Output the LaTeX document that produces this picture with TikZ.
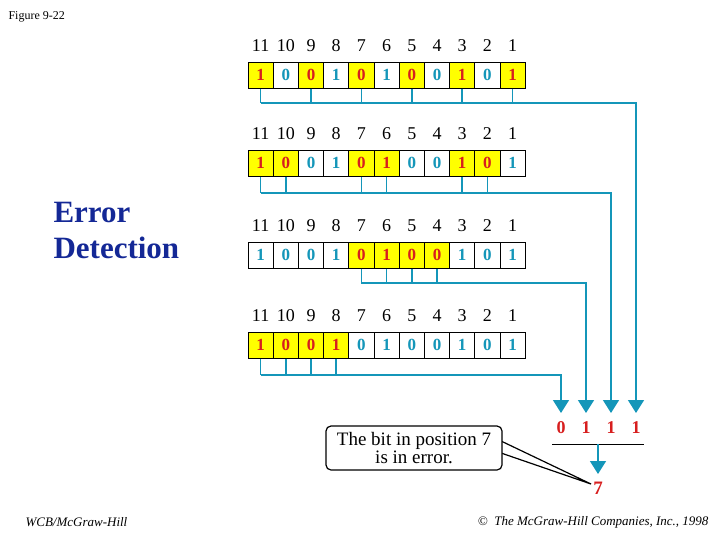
\documentclass[tikz,border=0pt]{standalone}
\usepackage{fontspec}
\setmainfont{Liberation Serif}
\usetikzlibrary{arrows.meta}
\definecolor{teal1}{RGB}{20,150,185}
\definecolor{red1}{RGB}{215,30,30}
\definecolor{yel}{RGB}{255,255,0}
\definecolor{blue1}{RGB}{20,40,150}
\begin{document}
\begin{tikzpicture}[x=1pt,y=-1pt,
  cell/.style={draw=black,line width=1pt,minimum width=25.2pt,minimum height=26pt,inner sep=0pt,font=\fontsize{17}{17}\selectfont\bfseries},
  lab/.style={font=\fontsize{18}{18}\selectfont},
  conn/.style={teal1,line width=1.5pt},
  arr/.style={conn,-{Triangle[width=16pt,length=13pt]}}]
\useasboundingbox (0,0) rectangle (728,546);
\node[anchor=north west,font=\fontsize{12}{12}\selectfont] (fig) at (5,8) {Figure 9-22};
\node[anchor=west,font=\fontsize{31}{36}\selectfont\bfseries,text=blue1,align=left] (title) at (50,230) {Error\\Detection};
\node[anchor=west,font=\fontsize{13}{13}\selectfont\itshape] (f1) at (22,522) {WCB/McGraw-Hill};
\node[anchor=east,font=\fontsize{13}{13}\selectfont\itshape] (f2) at (712,522) {\textcopyright\ \ The McGraw-Hill Companies, Inc., 1998};
\def\bits{{1,0,0,1,0,1,0,0,1,0,1}}
\foreach \r/\y/\yl in {1/75/103,2/163/193,3/255/283,4/345/375}{
  \foreach \i in {0,...,10}{
    \pgfmathtruncatemacro\p{11-\i}
    \pgfmathtruncatemacro\b{\bits[\i]}
    \pgfmathsetmacro\x{248+25.2*(\i+0.5)}
    \node[lab] (n\r-\p) at (\x,\y-29) {\p};
    \pgfmathtruncatemacro\hl{
      (\r==1)*(mod(\p,2)==1) + (\r==2)*(mod(floor(\p/2),2)==1) +
      (\r==3)*(mod(floor(\p/4),2)==1) + (\r==4)*(mod(floor(\p/8),2)==1)}
    \ifnum\hl>0
      \node[cell,fill=yel,text=red1] (c\r-\p) at (\x,\y) {\b};
    \else
      \node[cell,fill=white,text=teal1] (c\r-\p) at (\x,\y) {\b};
    \fi
  }
}
\foreach \k/\x/\v in {4/561/0,3/586/1,2/611/1,1/636/1}{
  \coordinate (t\k) at (\x,413);
  \node[font=\fontsize{18}{18}\selectfont\bfseries,text=red1] (d\k) at (\x,428) {\v};
}
\draw[line width=1pt] (552,444) -- (644,444);
\coordinate (sy) at (598,444);
\node[font=\fontsize{19}{19}\selectfont\bfseries,text=red1] (seven) at (598,488) {7};
\draw[arr] (sy) -- (598,474);
\foreach \p in {11,9,7,5,3,1}{\draw[conn] (c1-\p.south) -- (c1-\p.south |- 0,103);}
\draw[conn] (c1-11.south |- 0,103) -- (636,103);
\draw[arr] (636,102.25) -- (t1);
\foreach \p in {11,10,7,6,3,2}{\draw[conn] (c2-\p.south) -- (c2-\p.south |- 0,193);}
\draw[conn] (c2-11.south |- 0,193) -- (611,193);
\draw[arr] (611,192.25) -- (t2);
\foreach \p in {7,6,5,4}{\draw[conn] (c3-\p.south) -- (c3-\p.south |- 0,283);}
\draw[conn] (c3-7.south |- 0,283) -- (586,283);
\draw[arr] (586,282.25) -- (t3);
\foreach \p in {11,10,9,8}{\draw[conn] (c4-\p.south) -- (c4-\p.south |- 0,375);}
\draw[conn] (c4-11.south |- 0,375) -- (561,375);
\draw[arr] (561,374.25) -- (t4);
\draw[line width=1.2pt,fill=white] (501,441) -- (591,484) -- (501,453);
\node[draw,line width=1.2pt,rounded corners=5pt,fill=white,align=center,minimum width=176pt,minimum height=44pt,inner sep=2pt,font=\fontsize{19}{18}\selectfont] (call) at (414,448) {The bit in position 7\\is in error.};
\end{tikzpicture}
\end{document}
